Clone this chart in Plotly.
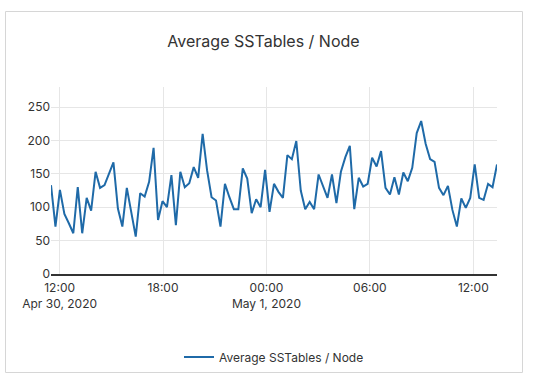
import pandas as pd
import plotly.graph_objects as go

# ---- data ----
series_name = "Average SSTables / Node"
start_time = "2020-04-30 11:30:00"
end_time = "2020-05-01 13:22:30"
values = [
    133, 71, 126, 90, 76, 61, 130, 61, 114, 95, 153, 129, 133, 150, 167, 98, 71, 129, 93, 56,
    121, 116, 138, 189, 81,
    109, 100, 148, 73, 153, 130, 136, 160, 144, 210, 155, 115, 110, 71, 135, 115, 97, 97, 158,
    143, 91, 112, 100,
    156, 93, 135, 123, 114, 178, 172, 199, 125, 97, 108, 97, 149, 131, 114, 149, 106, 153, 175,
    192, 97, 144, 131, 135, 174, 161,
    184, 129, 119, 145, 119, 152, 139, 159, 211, 229, 195, 172, 168, 129, 118, 132, 96, 71, 113,
    99, 114, 164, 114, 111, 135, 130, 164,
]
times = pd.date_range(start=start_time, end=end_time, periods=len(values))
y_ticks = [0, 50, 100, 150, 200, 250]

# ---- layout geometry ----
W, H = 533, 383
ML, MR, MT, MB = 51, 36, 87, 109
pw, ph = W - ML - MR, H - MT - MB
# card border in pixels
bx0, by0, bx1, by1 = 5.5, 11.5, 522.5, 372.5

def px_x(p):
    return (p - ML) / pw

def px_y(p):
    return (H - MB - p) / ph

FONT = "Inter, Roboto, sans-serif"

fig = go.Figure()
fig.add_trace(go.Scatter(
    x=times, y=values, mode="lines", name=series_name,
    line=dict(color="#1f6aa8", width=2),
    showlegend=True,
))

fig.update_layout(
    width=W, height=H,
    margin=dict(l=ML, r=MR, t=MT, b=MB),
    paper_bgcolor="white", plot_bgcolor="white",
    font=dict(family=FONT, size=12, color="#333333"),
    title=dict(text="Average SSTables / Node", xref="container", yref="container",
               x=263.5 / W, y=1 - 41 / H, xanchor="center", yanchor="middle",
               font=dict(family=FONT, size=16, color="#333333")),
    showlegend=True,
    legend=dict(orientation="h", xref="paper", yref="paper", x=0.5, xanchor="center",
                y=px_y(357), yanchor="middle", font=dict(family=FONT, size=12, color="#333333"),
                bgcolor="rgba(0,0,0,0)"),
    xaxis=dict(
        type="date", range=[times[0], times[-1]],
        tick0="2020-04-30 00:00", dtick=6 * 3600 * 1000,
        showgrid=True, gridcolor="#e6e6e6", gridwidth=1,
        showline=True, linecolor="#333333", linewidth=1.5,
        zeroline=False, ticks="", ticklabelstandoff=2,
        tickfont=dict(family=FONT, size=12, color="#333333"),
    ),
    yaxis=dict(
        range=[0, 280], tickvals=y_ticks,
        showgrid=True, gridcolor="#e6e6e6", gridwidth=1,
        zeroline=False, showline=False, ticks="",
        tickfont=dict(family=FONT, size=12, color="#333333"),
    ),
    shapes=[dict(type="rect", xref="paper", yref="paper",
                 x0=px_x(bx0), x1=px_x(bx1), y0=px_y(by1), y1=px_y(by0),
                 line=dict(color="#d6d6d6", width=1), fillcolor="rgba(0,0,0,0)", layer="below")],
)

fig.write_html(
    "out.html",
    config={"displayModeBar": False},
    post_script="document.body.style.margin='0';document.body.style.padding='0';",
)
